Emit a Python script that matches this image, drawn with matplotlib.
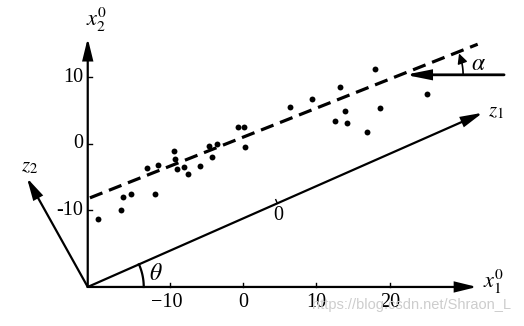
import numpy as np
import matplotlib
matplotlib.use("Agg")
import matplotlib.pyplot as plt

plt.rcParams["mathtext.fontset"] = "stix"

# ---- data ----
x1_points = [-19.75, -16.7, -16.4, -15.3, -12.0, -13.15, -11.6, -9.4, -9.3, -9.05,
             -8.05, -7.5, -5.9, -4.65, -4.2, -3.6, -0.65, 0.15, 0.25, 6.4,
             9.35, 13.2, 13.9, 12.55, 14.2, 16.95, 18.0, 18.7, 25.1]
x2_points = [-11.3, -9.9, -7.9, -7.55, -7.55, -3.65, -3.15, -1.0, -2.3, -3.8,
             -3.4, -4.55, -3.25, -0.25, -1.9, 0.0, 2.6, 2.6, -0.4, 5.5,
             6.8, 8.6, 5.0, 3.5, 3.2, 1.85, 11.2, 5.35, 7.5]
x1_ticks = [-10, 0, 10, 20]
x2_ticks = [-10, 0, 10]
tick_labels_x = ["\u221210", "0", "10", "20"]
tick_labels_y = ["10", "0", "-10"]

origin = (-21.2, -21.5)
x1_end = 31.9
x2_end = 15.9
z1_tip = (32.7, 4.7)
z2_tip = (-29.5, -5.1)
fit_start = (-20.9, -8.1)
fit_end = (32.0, 15.0)
horiz_y = 10.4
horiz_x = (22.1, 35.6)

# pixel scale of data units (for round arcs)
sx, sy = 7.33, 6.65

fig = plt.figure(figsize=(5.24, 3.26), dpi=100)
ax = fig.add_axes([0, 0, 1, 1])
ax.set_xlim(-33.17, 38.32)
ax.set_ylim(-27.37, 21.65)
ax.axis("off")

serif = "Liberation Serif"
lw = 1.6

def arrow(tip, start, hl=0.9, hw=0.22, ms=14, lwid=lw):
    ax.annotate("", xy=tip, xytext=start,
                arrowprops=dict(arrowstyle=f"-|>,head_length={hl},head_width={hw}",
                                lw=lwid, color="black", mutation_scale=ms,
                                shrinkA=0, shrinkB=0, joinstyle="miter"))

ox, oy = origin
# x1 axis and x2 axis
arrow((x1_end, oy), (ox, oy))
arrow((ox, x2_end), (ox, oy))
# z1, z2 axes
arrow(z1_tip, (ox, oy))
arrow(z2_tip, (ox, oy))

# watermark (behind the labels)
fig.text(0.785, 0.065, "https://blog.csdn.net/Shraon_L", fontsize=10.5,
         family="Liberation Sans", color="#cdcdcd", ha="center", va="center", zorder=0)

# ticks on x1 axis
for t in x1_ticks:
    ax.plot([t, t], [oy, oy + 4 / sy], color="black", lw=1.0)
for t, lab in zip(x1_ticks, tick_labels_x):
    ax.text(t - (0.4 if t < 0 else 0), oy - 2.4, lab, ha="center", va="center",
            fontsize=14.5, family=serif)
# ticks on x2 axis
for t in x2_ticks:
    ax.plot([ox, ox + 4 / sx], [t, t], color="black", lw=1.0)
for t, lab in zip(sorted(x2_ticks, reverse=True), tick_labels_y):
    ax.text(ox - 0.6, t, lab, ha="right", va="center", fontsize=14.5, family=serif)

# tick "0" on z1 axis
frac = 0.48
zx = ox + frac * (z1_tip[0] - ox)
zy = oy + frac * (z1_tip[1] - oy)
dxp, dyp = (z1_tip[0] - ox) * sx, (z1_tip[1] - oy) * sy
L = np.hypot(dxp, dyp)
nx, ny = -dyp / L, dxp / L
ax.plot([zx, zx + 4 * nx / sx], [zy, zy + 4 * ny / sy], color="black", lw=1.0)
ax.text(zx + 0.1, zy - 1.9, "0", ha="center", va="center", fontsize=14.5, family=serif)

# dashed fitted line
ax.plot([fit_start[0], fit_end[0]], [fit_start[1], fit_end[1]], color="black",
        lw=2.3, dashes=(4.2, 2.2))

# horizontal arrow pointing to dashed line
arrow((horiz_x[0], horiz_y), (horiz_x[1], horiz_y), hl=1.0, hw=0.2, ms=14, lwid=2.0)

# alpha arc
ang_fit = np.degrees(np.arctan2((fit_end[1] - fit_start[1]) * sy,
                                (fit_end[0] - fit_start[0]) * sx))
r = 58
a = np.radians(np.linspace(0, ang_fit - 4, 30))
ax.plot(horiz_x[0] + r * np.cos(a) / sx, horiz_y + r * np.sin(a) / sy, color="black", lw=1.2)
a_end = np.radians(ang_fit)
ax.annotate("", xy=(horiz_x[0] + r * np.cos(a_end) / sx, horiz_y + r * np.sin(a_end) / sy),
            xytext=(horiz_x[0] + r * np.cos(a[-1]) / sx, horiz_y + r * np.sin(a[-1]) / sy),
            arrowprops=dict(arrowstyle="-|>,head_length=0.5,head_width=0.25", lw=1.0,
                            color="black", mutation_scale=12, shrinkA=0, shrinkB=0))
ax.text(horiz_x[0] + 73 / sx, horiz_y + 12 / sy, r"$\alpha$", fontsize=17,
        ha="center", va="center")

# theta arc
ang_z1 = np.degrees(np.arctan2(dyp, dxp))
r2 = 56
a2 = np.radians(np.linspace(0, ang_z1, 40))
ax.plot(ox + r2 * np.cos(a2) / sx, oy + r2 * np.sin(a2) / sy, color="black", lw=1.6)
ax.text(ox + 68 / sx, oy + 14 / sy, r"$\theta$", fontsize=17, ha="center", va="center")

# data points
ax.scatter(x1_points, x2_points, s=18, color="black", zorder=5, linewidths=0)

# axis labels
ax.text(x1_end + 2.3, oy + 0.8, r"$x_1^0$", fontsize=16, ha="center", va="center")
ax.text(ox + 1.2, x2_end + 2.8, r"$x_2^0$", fontsize=16, ha="center", va="center")
ax.text(z1_tip[0] + 1.8, z1_tip[1] + 0.3, r"$z_1$", fontsize=15, ha="center", va="center")
ax.text(z2_tip[0] + 0.3, z2_tip[1] + 1.8, r"$z_2$", fontsize=15, ha="center", va="center")

fig.savefig("out.png", dpi=100)
